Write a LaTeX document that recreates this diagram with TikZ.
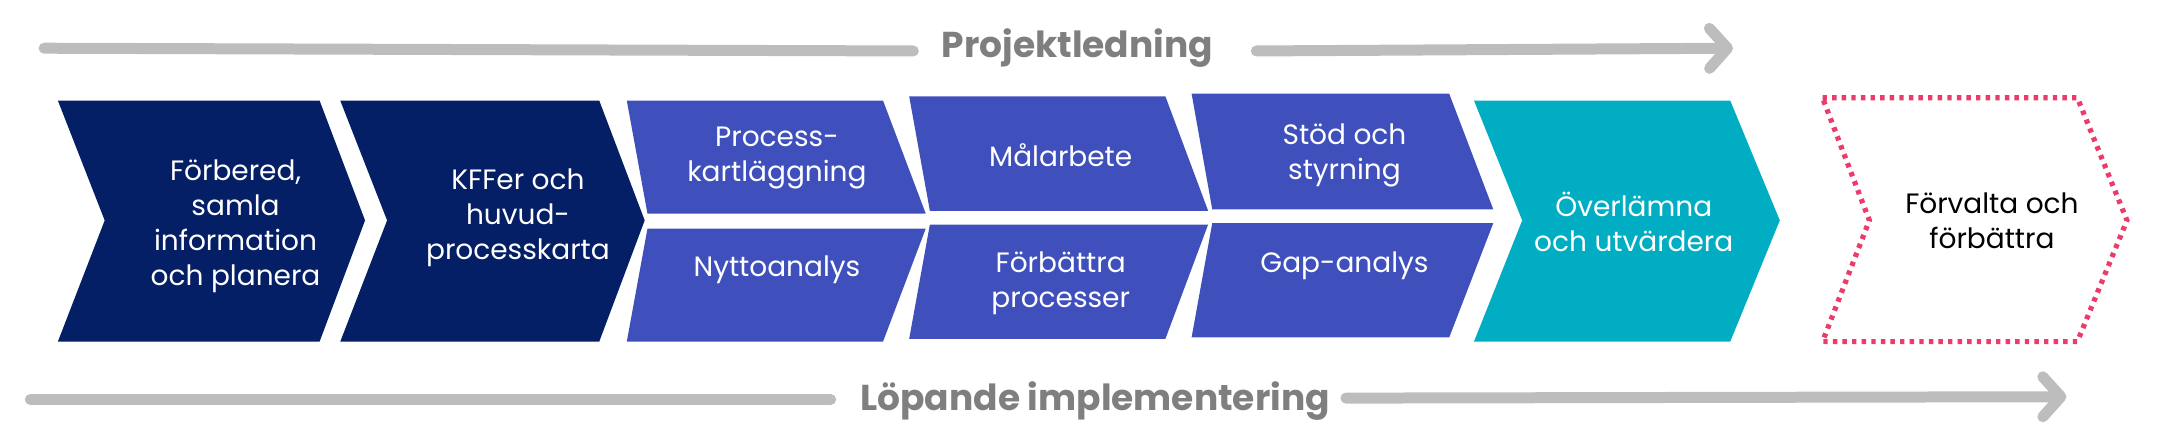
\documentclass[tikz,border=0pt]{standalone}
\usepackage{fontspec}
\setmainfont{Poppins}
\usetikzlibrary{arrows.meta}
\definecolor{navy}{HTML}{041F66}
\definecolor{mid}{HTML}{3F50BC}
\definecolor{teal}{HTML}{00ADC3}
\definecolor{pinkred}{HTML}{EC3A6B}
\definecolor{lgray}{HTML}{BDBDBD}
\definecolor{tgray}{HTML}{7F7F7F}
\begin{document}
\begin{tikzpicture}[x=0.689pt,y=-0.689pt,
  txt/.style={text=white,font=\fontsize{14}{17.5}\selectfont,align=center,inner sep=0},
  bar/.style={draw=lgray,line width=5.5pt,line cap=round},
  barhead/.style={bar,-{Straight Barb[length=9pt,width=20pt,line cap=round,line join=round]}},
  title/.style={text=tgray,font=\bfseries\fontsize{18}{20}\selectfont,inner sep=0}]
\useasboundingbox (0,0) rectangle (1568,323.8);
% top arrow
\node[title] (pl) at (782,35) {Projektledning};
\coordinate (a1) at (32,35); \coordinate (a2) at (663,37);
\coordinate (a3) at (912,37); \coordinate (a4) at (1258,35);
\draw[bar] (a1) -- (a2);
\draw[barhead] (a3) -- (a4);
% bottom arrow
\node[title] (li) at (795,291) {Löpande implementering};
\coordinate (b1) at (22,290); \coordinate (b2) at (603,290);
\coordinate (b3) at (977,289); \coordinate (b4) at (1500,288);
\draw[bar] (b1) -- (b2);
\draw[barhead] (b3) -- (b4);
% chevrons
\fill[navy] (42,73) -- (232,73) -- (265,160) -- (232,248) -- (42,248) -- (76,160) -- cycle;
\fill[navy] (247,73) -- (435,73) -- (468,160) -- (435,248) -- (247,248) -- (281,160) -- cycle;
\node[txt] (c1) at (171,164) {Förbered,\\samla\\information\\och planera};
\node[txt] (c2) at (376,158) {KFFer och\\huvud-\\processkarta};
% column 3
\fill[mid] (455,73) -- (641,73) -- (672,155) -- (470,155) -- cycle;
\fill[mid] (470,166) -- (672,166) -- (641,248) -- (455,248) -- cycle;
\node[txt] (p1) at (564,115) {Process-\\kartläggning};
\node[txt] (p2) at (564,196) {Nyttoanalys};
% column 4
\fill[mid] (660,70) -- (846,70) -- (877,153) -- (675,153) -- cycle;
\fill[mid] (675,163) -- (877,163) -- (846,246) -- (660,246) -- cycle;
\node[txt] (m1) at (770,113) {Målarbete};
\node[txt] (m2) at (770,206) {Förbättra\\processer};
% column 5
\fill[mid] (865,68) -- (1052,68) -- (1084,152) -- (880,152) -- cycle;
\fill[mid] (880,162) -- (1084,162) -- (1052,245) -- (865,245) -- cycle;
\node[txt] (s1) at (976,113) {Stöd och\\styrning};
\node[txt] (s2) at (976,193) {Gap-analys};
% teal
\fill[teal] (1070,73) -- (1256,73) -- (1292,160) -- (1256,248) -- (1070,248) -- (1105,160) -- cycle;
\node[txt] (t1) at (1186,161) {Överlämna\\och utvärdera};
% dotted
\draw[pinkred,line width=2.6pt,dash pattern=on 2.2pt off 2.6pt] (1323,71) -- (1508,71) -- (1544,160) -- (1508,248) -- (1323,248) -- (1357,160) -- cycle;
\node[txt,text=black] (f1) at (1446,160) {Förvalta och\\förbättra};
\end{tikzpicture}
\end{document}
